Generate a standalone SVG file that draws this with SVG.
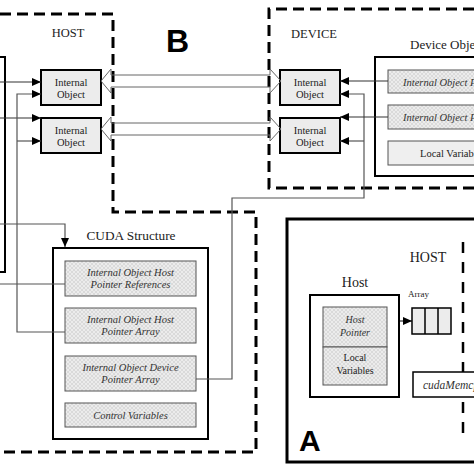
<svg xmlns="http://www.w3.org/2000/svg" width="474" height="474" viewBox="0 0 474 474">
<defs>
<pattern id="hatch" width="4" height="4" patternUnits="userSpaceOnUse">
<rect width="4" height="4" fill="#ececec"/>
<path d="M0,0 L4,4 M4,0 L0,4" stroke="#d2d2d2" stroke-width="0.7"/>
</pattern>
<marker id="ah" markerWidth="9" markerHeight="8" refX="9" refY="4" orient="auto" markerUnits="userSpaceOnUse">
<path d="M0,0 L9,4 L0,8 Z" fill="#000"/>
</marker>
<style>
.t{font-family:"Liberation Serif","Times New Roman",serif;fill:#222}
.it{font-family:"Liberation Serif","Times New Roman",serif;font-style:italic;fill:#333}
.big{font-family:"Liberation Sans",Arial,sans-serif;font-weight:bold;fill:#000}
.io{fill:#ececec;stroke:#000;stroke-width:2}
.hb{fill:url(#hatch);stroke:#555;stroke-width:1}
.ln{fill:none;stroke:#555;stroke-width:1.2}
.dk{fill:none;stroke:#333;stroke-width:1.2}
.dash{fill:none;stroke:#000;stroke-width:3;stroke-dasharray:11 6}
.dbl{fill:none;stroke:#666;stroke-width:1}
</style>
</defs>
<rect width="474" height="474" fill="#fff"/>

<!-- Panel B regions -->
<g id="host-region">
<path class="dash" d="M0,14 H113 V212 H256 V452 H0"/>
<text class="t" x="68" y="37" font-size="12.5" text-anchor="middle">HOST</text>
</g>
<g id="device-region">
<path class="dash" d="M474,9 H269 V188 H474"/>
<text class="t" x="314" y="38" font-size="12.5" text-anchor="middle">DEVICE</text>
</g>
<text class="big" x="166" y="52" font-size="32">B</text>

<g id="left-box">
<rect x="-20" y="57" width="25" height="215" fill="none" stroke="#000" stroke-width="2"/>
</g>

<g id="host-io-1">
<rect class="io" x="41" y="70" width="60" height="35"/>
<text class="t" x="71" y="86" font-size="10.5" text-anchor="middle">Internal</text>
<text class="t" x="71" y="98" font-size="10.5" text-anchor="middle">Object</text>
</g>
<g id="host-io-2">
<rect class="io" x="41" y="118" width="60" height="35"/>
<text class="t" x="71" y="134" font-size="10.5" text-anchor="middle">Internal</text>
<text class="t" x="71" y="146" font-size="10.5" text-anchor="middle">Object</text>
</g>
<g id="dev-io-1">
<rect class="io" x="280" y="70" width="60" height="35"/>
<text class="t" x="310" y="86" font-size="10.5" text-anchor="middle">Internal</text>
<text class="t" x="310" y="98" font-size="10.5" text-anchor="middle">Object</text>
</g>
<g id="dev-io-2">
<rect class="io" x="280" y="118" width="60" height="35"/>
<text class="t" x="310" y="134" font-size="10.5" text-anchor="middle">Internal</text>
<text class="t" x="310" y="146" font-size="10.5" text-anchor="middle">Object</text>
</g>

<g id="device-object">
<text class="t" x="410" y="49" font-size="13">Device Object</text>
<rect x="375" y="57" width="120" height="119" fill="#fff" stroke="#000" stroke-width="2"/>
<rect class="hb" x="388" y="70" width="100" height="23"/>
<text class="it" x="403" y="86" font-size="10.5">Internal Object Pointer</text>
<rect class="hb" x="388" y="105" width="100" height="24"/>
<text class="it" x="403" y="121" font-size="10.5">Internal Object Pointer</text>
<rect x="388" y="141" width="100" height="24" fill="#efefef" stroke="#555" stroke-width="1"/>
<text class="t" x="420" y="157" font-size="10.5">Local Variables</text>
</g>

<g id="cuda-structure">
<text class="t" x="131" y="240" font-size="13.3" text-anchor="middle">CUDA Structure</text>
<rect x="53" y="248" width="155" height="191" fill="#fff" stroke="#000" stroke-width="2"/>
<rect class="hb" x="65" y="261" width="131" height="35"/>
<text class="it" x="130.5" y="276" font-size="10.5" text-anchor="middle">Internal Object Host</text>
<text class="it" x="130.5" y="288" font-size="10.5" text-anchor="middle">Pointer References</text>
<rect class="hb" x="65" y="308" width="131" height="35"/>
<text class="it" x="130.5" y="323" font-size="10.5" text-anchor="middle">Internal Object Host</text>
<text class="it" x="130.5" y="335" font-size="10.5" text-anchor="middle">Pointer Array</text>
<rect class="hb" x="65" y="356" width="131" height="35"/>
<text class="it" x="130.5" y="371" font-size="10.5" text-anchor="middle">Internal Object Device</text>
<text class="it" x="130.5" y="383" font-size="10.5" text-anchor="middle">Pointer Array</text>
<rect class="hb" x="65" y="403" width="131" height="24"/>
<text class="it" x="130.5" y="419" font-size="10.5" text-anchor="middle">Control Variables</text>
</g>

<g id="connectors">
<path class="dbl" d="M101,81 L111,69 L111,75 L270,75 L270,69 L281,81 L270,93 L270,87 L111,87 L111,93 Z"/>
<path class="dbl" d="M101,129 L111,117 L111,123 L270,123 L270,117 L281,129 L270,141 L270,135 L111,135 L111,141 Z"/>
<path class="dk" d="M0,82 H41" marker-end="url(#ah)"/>
<path class="dk" d="M0,118 H41" marker-end="url(#ah)"/>
<path class="ln" d="M65,332 H17 V94 H41" marker-end="url(#ah)"/>
<path class="ln" d="M17,141 H41" marker-end="url(#ah)"/>
<path class="ln" d="M0,224 H65 V247" marker-end="url(#ah)"/>
<path class="ln" d="M0,284 H65"/>
<path class="ln" d="M196,379 H232 V198 H364 V94 H340" marker-end="url(#ah)"/>
<path class="ln" d="M364,141 H340" marker-end="url(#ah)"/>
<path class="dk" d="M388,81 H340" marker-end="url(#ah)"/>
<path class="dk" d="M388,117 H340" marker-end="url(#ah)"/>
<path class="dk" d="M387,321 H412" marker-end="url(#ah)"/>
</g>

<!-- Panel A -->
<g id="panel-a">
<rect x="287" y="219" width="200" height="243" fill="none" stroke="#000" stroke-width="3"/>
<text class="t" x="428" y="262" font-size="14" text-anchor="middle">HOST</text>
<path d="M463,242 V433" stroke="#000" stroke-width="2.5" stroke-dasharray="11 9" fill="none"/>
<text class="big" x="299" y="451" font-size="30">A</text>
</g>
<g id="host-box">
<text class="t" x="355" y="287" font-size="14" text-anchor="middle">Host</text>
<rect x="310" y="295" width="89" height="102" fill="#fff" stroke="#000" stroke-width="2"/>
<rect class="hb" x="323" y="307" width="64" height="40" stroke="#333"/>
<rect class="hb" x="323" y="347" width="64" height="38" stroke="#333"/>
<text class="it" x="355" y="323" font-size="10" text-anchor="middle" fill="#555">Host</text>
<text class="it" x="355" y="336" font-size="10" text-anchor="middle">Pointer</text>
<text class="t" x="355" y="361" font-size="10" text-anchor="middle" fill="#555">Local</text>
<text class="t" x="355" y="374" font-size="10" text-anchor="middle">Variables</text>
</g>
<g id="array">
<text class="t" x="408" y="297" font-size="9">Array</text>
<rect x="412" y="308" width="39" height="26" fill="#ececec" stroke="#000" stroke-width="1.5"/>
<path d="M425,308 V334 M438,308 V334" stroke="#000" stroke-width="1.5"/>
</g>
<g id="cudamemcpy">
<rect x="413" y="372" width="80" height="25" fill="#fff" stroke="#000" stroke-width="1.5"/>
<text class="it" x="423" y="389" font-size="11.5">cudaMemcpy</text>
</g>
</svg>
